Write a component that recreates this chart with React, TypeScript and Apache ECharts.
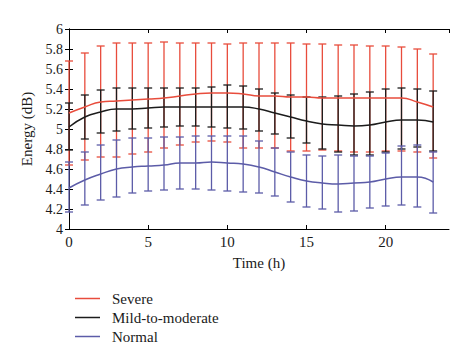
import React, { useEffect, useRef } from "react";
import * as echarts from "echarts";

const hours = [0, 1, 2, 3, 4, 5, 6, 7, 8, 9, 10, 11, 12, 13, 14, 15, 16, 17, 18, 19, 20, 21, 22, 23];

const severeMean = [5.16, 5.22, 5.27, 5.28, 5.29, 5.30, 5.31, 5.33, 5.35, 5.36, 5.36, 5.35, 5.33, 5.33, 5.32, 5.32, 5.31, 5.31, 5.31, 5.31, 5.31, 5.31, 5.27, 5.22];
const severeHigh = [5.68, 5.76, 5.83, 5.86, 5.86, 5.86, 5.87, 5.86, 5.86, 5.86, 5.85, 5.86, 5.86, 5.86, 5.86, 5.85, 5.85, 5.84, 5.84, 5.83, 5.83, 5.82, 5.80, 5.75];
const severeLow = [4.64, 4.69, 4.72, 4.72, 4.75, 4.77, 4.81, 4.84, 4.87, 4.88, 4.87, 4.81, 4.81, 4.81, 4.78, 4.78, 4.79, 4.78, 4.77, 4.77, 4.78, 4.78, 4.77, 4.71];

const mildMean = [5.02, 5.12, 5.17, 5.20, 5.20, 5.21, 5.22, 5.22, 5.22, 5.22, 5.22, 5.22, 5.20, 5.16, 5.12, 5.08, 5.05, 5.04, 5.03, 5.04, 5.07, 5.09, 5.09, 5.07];
const mildHigh = [5.26, 5.34, 5.39, 5.41, 5.41, 5.41, 5.41, 5.41, 5.41, 5.42, 5.44, 5.43, 5.40, 5.36, 5.34, 5.32, 5.32, 5.33, 5.35, 5.37, 5.40, 5.41, 5.40, 5.38];
const mildLow = [4.79, 4.90, 4.96, 4.98, 5.00, 5.01, 5.02, 5.03, 5.03, 5.02, 5.01, 5.00, 4.98, 4.95, 4.91, 4.86, 4.80, 4.77, 4.74, 4.74, 4.77, 4.80, 4.82, 4.78];

const normalMean = [4.41, 4.49, 4.55, 4.60, 4.62, 4.63, 4.64, 4.66, 4.66, 4.67, 4.66, 4.65, 4.62, 4.57, 4.52, 4.48, 4.46, 4.45, 4.46, 4.47, 4.50, 4.52, 4.52, 4.47];
const normalHigh = [4.67, 4.77, 4.84, 4.89, 4.91, 4.91, 4.92, 4.92, 4.93, 4.93, 4.93, 4.93, 4.88, 4.81, 4.77, 4.74, 4.73, 4.74, 4.73, 4.73, 4.76, 4.83, 4.84, 4.77];
const normalLow = [4.17, 4.24, 4.29, 4.32, 4.36, 4.38, 4.39, 4.40, 4.40, 4.39, 4.38, 4.37, 4.36, 4.33, 4.27, 4.22, 4.20, 4.17, 4.18, 4.21, 4.23, 4.24, 4.22, 4.16];

const seriesNames = ["Severe", "Mild-to-moderate", "Normal"];
const colors = ["#e84c3c", "#1c1c1c", "#5c5ca8"];

const FONT = "Liberation Serif";

function errorSeries(name: string, color: string, low: number[], high: number[]) {
  return {
    type: "custom",
    name: name + " error",
    xAxisIndex: 0,
    yAxisIndex: 0,
    silent: true,
    data: hours.map((h, i) => [h, low[i], high[i]]),
    renderItem: (params: any, api: any) => {
      const x = api.value(0);
      const lo = api.coord([x, api.value(1)]);
      const hi = api.coord([x, api.value(2)]);
      const hw = 4;
      const style = { stroke: color, lineWidth: 1.3, fill: "none" };
      return {
        type: "group",
        children: [
          { type: "line", shape: { x1: lo[0], y1: lo[1], x2: hi[0], y2: hi[1] }, style },
          { type: "line", shape: { x1: lo[0] - hw, y1: lo[1], x2: lo[0] + hw, y2: lo[1] }, style },
          { type: "line", shape: { x1: hi[0] - hw, y1: hi[1], x2: hi[0] + hw, y2: hi[1] }, style },
        ],
      };
    },
    z: 2,
  };
}

function lineSeries(name: string, color: string, mean: number[]) {
  return {
    type: "line",
    name,
    xAxisIndex: 0,
    yAxisIndex: 0,
    data: hours.map((h, i) => [h, mean[i]]),
    smooth: 0.5,
    showSymbol: false,
    symbol: "none",
    color,
    lineStyle: { color, width: 1.5 },
    z: 3,
  };
}

export default function App() {
  const ref = useRef<HTMLDivElement>(null);
  useEffect(() => {
    if (!ref.current) return;
    const chart = echarts.init(ref.current, null, { renderer: "svg" });
    const axisLine = { show: true, lineStyle: { color: "#000", width: 1 } };
    const tick = { show: true, inside: true, length: 4, lineStyle: { color: "#000", width: 1 } };
    chart.setOption({
      animation: false,
      backgroundColor: "#fff",
      textStyle: { fontFamily: FONT },
      grid: { left: 69, top: 29, right: 25, bottom: 135, containLabel: false },
      legend: {
        data: seriesNames,
        orient: "vertical",
        left: 70,
        top: 286,
        icon: "rect",
        itemWidth: 25,
        itemHeight: 1.5,
        itemGap: 4,
        textStyle: { fontFamily: FONT, fontSize: 15, color: "#1a1a1a", padding: [0, 0, 0, 7], lineHeight: 15 },
      },
      xAxis: [
        {
          type: "value",
          min: 0,
          max: 24,
          interval: 5,
          position: "bottom",
          name: "Time (h)",
          nameLocation: "middle",
          nameGap: 26,
          nameTextStyle: { fontFamily: FONT, fontSize: 15, color: "#1a1a1a" },
          axisLine,
          axisTick: tick,
          splitLine: { show: false },
          axisLabel: { fontFamily: FONT, fontSize: 15, color: "#1a1a1a", margin: 5, showMaxLabel: false },
        },
        {
          type: "value",
          min: 0,
          max: 24,
          interval: 5,
          position: "top",
          axisLine,
          axisTick: tick,
          splitLine: { show: false },
          axisLabel: { show: false },
        },
      ],
      yAxis: [
        {
          type: "value",
          min: 4,
          max: 6,
          interval: 0.2,
          position: "left",
          name: "Energy (dB)",
          nameLocation: "middle",
          nameGap: 29,
          nameTextStyle: { fontFamily: FONT, fontSize: 15, color: "#1a1a1a" },
          axisLine,
          axisTick: tick,
          splitLine: { show: false },
          axisLabel: {
            fontFamily: FONT,
            fontSize: 14,
            color: "#1a1a1a",
            margin: 6,
            formatter: (v: number) => String(Number(v.toFixed(1))),
          },
        },
        {
          type: "value",
          min: 4,
          max: 6,
          interval: 0.2,
          position: "right",
          axisLine,
          axisTick: tick,
          splitLine: { show: false },
          axisLabel: { show: false },
        },
      ],
      series: [
        errorSeries(seriesNames[0], colors[0], severeLow, severeHigh),
        errorSeries(seriesNames[1], colors[1], mildLow, mildHigh),
        errorSeries(seriesNames[2], colors[2], normalLow, normalHigh),
        lineSeries(seriesNames[0], colors[0], severeMean),
        lineSeries(seriesNames[1], colors[1], mildMean),
        lineSeries(seriesNames[2], colors[2], normalMean),
      ],
    });
    return () => chart.dispose();
  }, []);
  return (
    <div
      ref={ref}
      style={{ position: "fixed", left: 0, top: 0, width: 474, height: 364, background: "#fff" }}
    />
  );
}
